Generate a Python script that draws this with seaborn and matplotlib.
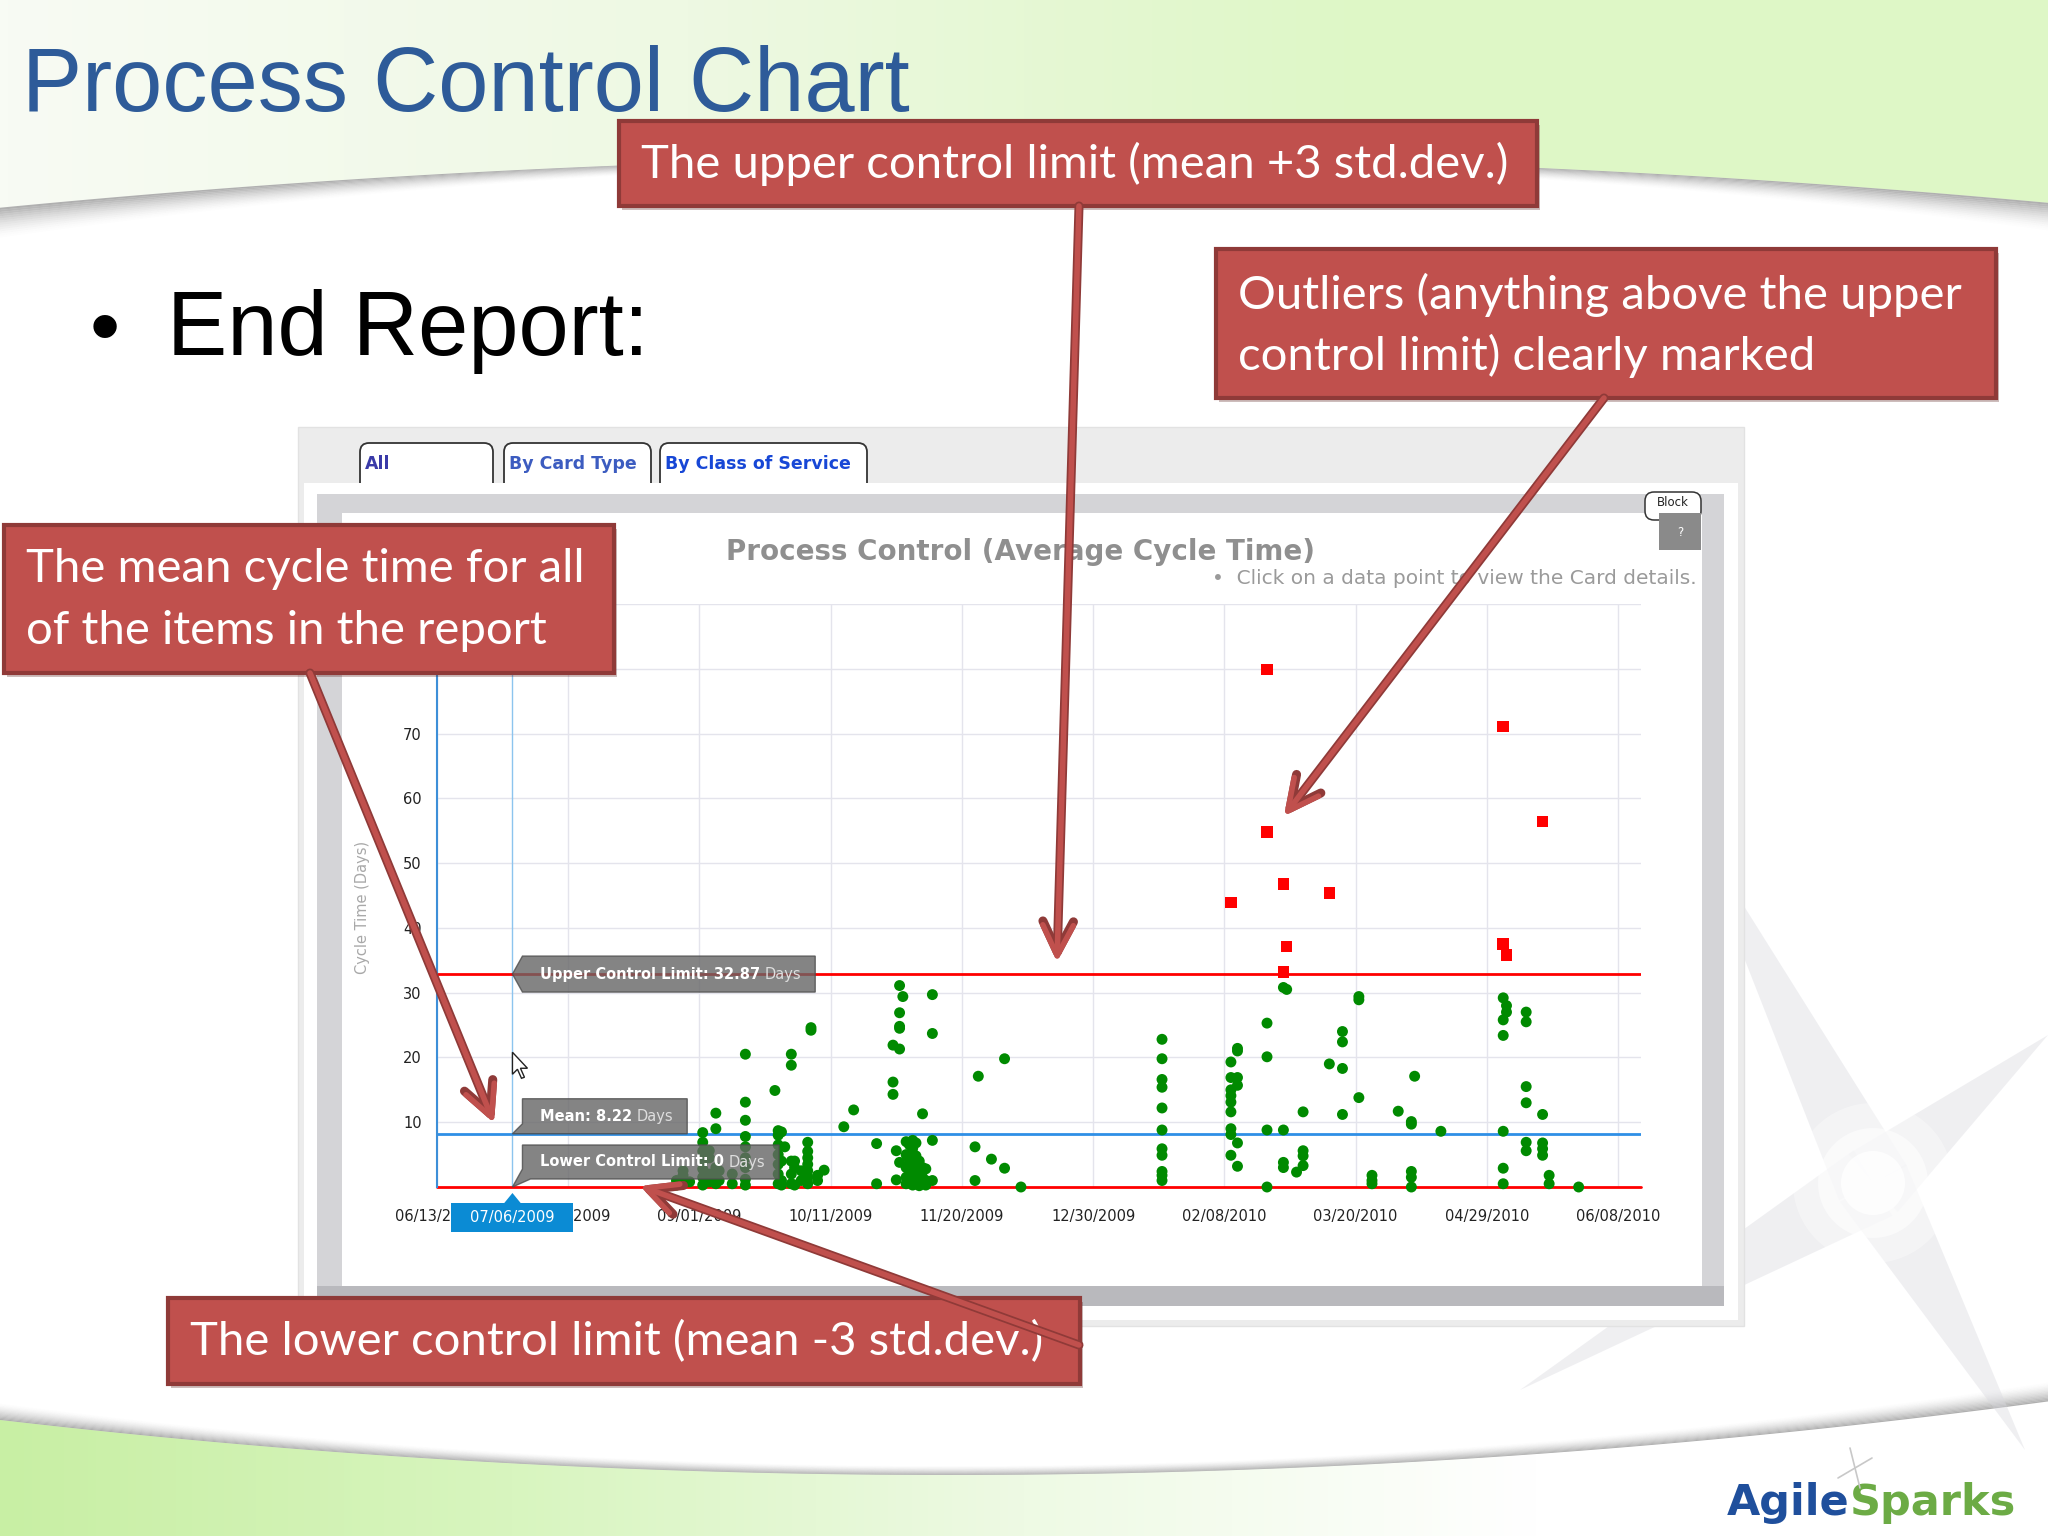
import numpy as np
import pandas as pd
import matplotlib
matplotlib.use("Agg")
import matplotlib.pyplot as plt
import matplotlib.dates as mdates
from matplotlib.patches import Rectangle, Polygon, FancyBboxPatch, Circle
from matplotlib.colors import LinearSegmentedColormap
import seaborn as sns

# ---- values ----
# cards inside the control limits, grouped by completion date
ok_col_dates = [
    "2009-08-25", "2009-08-27", "2009-08-29", "2009-09-02", "2009-09-04",
    "2009-09-06", "2009-09-07", "2009-09-11", "2009-09-15", "2009-09-24",
    "2009-09-25", "2009-09-26", "2009-09-27", "2009-09-29", "2009-09-30",
    "2009-10-02", "2009-10-04", "2009-10-05", "2009-10-07", "2009-10-09",
    "2009-10-15", "2009-10-18", "2009-10-25", "2009-10-30", "2009-10-31",
    "2009-11-01", "2009-11-02", "2009-11-03", "2009-11-04", "2009-11-05",
    "2009-11-06", "2009-11-07", "2009-11-08", "2009-11-09", "2009-11-11",
    "2009-11-24", "2009-11-25", "2009-11-29", "2009-12-03", "2009-12-08",
    "2010-01-20", "2010-02-10", "2010-02-12", "2010-02-21", "2010-02-26",
    "2010-02-27", "2010-03-02", "2010-03-04", "2010-03-12", "2010-03-16",
    "2010-03-21", "2010-03-25", "2010-04-02", "2010-04-06", "2010-04-07",
    "2010-04-15", "2010-05-04", "2010-05-05", "2010-05-11", "2010-05-16",
    "2010-05-18", "2010-05-27",
]
ok_col_days = [
    [0.3, 1.0], [0.5, 1.0, 1.8, 2.5], [0.8], [0.3, 1.5, 2.8, 4.0, 5.5, 6.9, 8.4],
    [0.8, 2.0, 4.5, 5.6], [0.5, 1.8, 3.0, 9.0, 11.4], [1.0, 2.5], [0.5, 2.0],
    [0.3, 1.2, 3.0, 4.5, 6.2, 7.8, 10.3, 13.1, 20.5], [14.9],
    [0.5, 2.0, 3.5, 5.0, 6.5, 8.0, 8.7], [0.3, 1.0, 4.0, 8.5], [6.2],
    [0.5, 2.0, 4.0, 18.8, 20.5], [0.3, 3.0, 4.0], [1.0, 2.5],
    [0.5, 1.5, 2.5, 3.5, 4.5, 5.5, 6.9], [24.2, 24.6], [1.0, 1.8], [2.6],
    [9.3], [11.9], [0.5, 6.7], [14.3, 16.2, 21.9], [1.1, 5.6],
    [3.8, 21.3, 24.5, 24.8, 26.9, 31.1], [29.4], [0.5, 1.5, 3.0, 5.0, 7.0],
    [0.8, 2.5, 4.2, 6.5], [0.3, 2.0, 3.5, 5.2, 6.0, 7.2], [0.5, 1.2, 3.0, 4.8, 6.8],
    [0.2, 2.2, 4.0], [0.6, 1.5, 3.0, 11.3], [0.3, 1.0, 2.8], [1.0, 7.2, 23.7, 29.7],
    [1.0, 6.2], [17.1], [4.3], [2.9, 19.8], [0.0],
    [1.0, 1.8, 2.4, 4.9, 5.9, 8.8, 12.2, 15.4, 16.6, 19.8, 22.8],
    [4.9, 8.1, 9.0, 11.6, 13.1, 14.1, 15.0, 16.9, 19.3],
    [3.2, 6.8, 15.7, 16.9, 21.0, 21.4], [0.0, 8.8, 20.1, 25.3],
    [3.0, 3.8, 8.8, 30.8], [30.5], [2.3], [3.3, 4.8, 5.6, 11.6], [19.0],
    [11.2, 18.3, 22.4, 24.0], [13.8, 28.9, 29.4], [0.5, 1.0, 1.8], [11.7],
    [0.0, 1.5, 2.4, 9.7, 10.1], [17.1], [8.6], [0.5, 2.9, 8.6, 23.4, 25.8, 29.2],
    [27.0, 28.0], [5.6, 6.9, 13.0, 15.5, 25.5, 27.0], [4.9, 5.9, 6.8, 11.2],
    [0.5, 1.8], [0.0],
]
# outliers above the upper control limit
out_dates = ["2010-02-10", "2010-02-21", "2010-02-21", "2010-02-26", "2010-02-26",
             "2010-02-27", "2010-03-12", "2010-05-04", "2010-05-04", "2010-05-05",
             "2010-05-16"]
out_days = [43.9, 79.9, 54.8, 46.8, 33.2, 37.1, 45.4, 71.1, 37.5, 35.8, 56.4]

mean_days = 8.22
ucl_days = 32.87
lcl_days = 0
hover_date = "2009-07-06"
x_start, x_end = "2009-06-13", "2010-06-15"
tick_dates = ["2009-06-13", "2009-07-23", "2009-09-01", "2009-10-11", "2009-11-20",
              "2009-12-30", "2010-02-08", "2010-03-20", "2010-04-29", "2010-06-08"]
y_ticks = [10, 20, 30, 40, 50, 60, 70, 80, 90]
tab_names = ["All", "By Card Type", "By Class of Service"]

ok_df = pd.DataFrame([(d, v) for d, vals in zip(ok_col_dates, ok_col_days) for v in vals],
                     columns=["date", "days"])
ok_df["date"] = pd.to_datetime(ok_df["date"])
out_df = pd.DataFrame({"date": pd.to_datetime(out_dates), "days": out_days})

sns.set_style("white")
plt.rcParams['font.family'] = ['DejaVu Sans']
SLIDE = ['Liberation Sans', 'DejaVu Sans']
CALL = ['Lato', 'DejaVu Sans']

W, H = 2048, 1536
fig = plt.figure(figsize=(W / 100, H / 100), dpi=100)
fig.patch.set_facecolor('white')

# ---- slide background (pixel coordinates, y downwards) ----
bg = fig.add_axes([0, 0, 1, 1], zorder=0)
bg.axis('off')

xs = np.linspace(0, W, 300)
top_edge = 157 + 4.6e-5 * (xs - 1050) ** 2
top_clip = Polygon(np.vstack([[[0, 0], [W, 0]], np.column_stack([xs, top_edge])[::-1]]),
                   closed=True, fc='none', ec='none', transform=bg.transData)
bg.add_patch(top_clip)
cm_top = LinearSegmentedColormap.from_list('top', ['#f8fbf4', '#eef9e3', '#def7c6', '#def7c6'])
im = bg.imshow(np.linspace(0, 1, 256)[None, :], cmap=cm_top, extent=(0, W, 260, 0),
               aspect='auto', zorder=0)
im.set_clip_path(top_clip)

bot_edge = 1475 - 6.1e-5 * (xs - 950) ** 2
bot_clip = Polygon(np.vstack([np.column_stack([xs, bot_edge]), [[W, H], [0, H]]]),
                   closed=True, fc='none', ec='none', transform=bg.transData)
bg.add_patch(bot_clip)
cm_bot = LinearSegmentedColormap.from_list('bot', ['#c8efa4', '#d8f5bf', '#eefae4', '#ffffff', '#ffffff'])
im2 = bg.imshow(np.linspace(0, 1, 256)[None, :], cmap=cm_bot, extent=(0, W, H, 1380),
                aspect='auto', zorder=0)
im2.set_clip_path(bot_clip)

n_band = 14
thick_top = 6 + 24 * ((xs - 1050) / 1050) ** 2
thick_bot = 9 + 10 * ((xs - 950) / 1100) ** 2
for k in range(n_band):
    f0, f1 = k / n_band, (k + 1) / n_band
    a = 0.55 * (1 - f0) ** 1.6
    bg.fill_between(xs, top_edge + thick_top * f0, top_edge + thick_top * f1,
                    color='#6f6f6f', alpha=a, lw=0, zorder=1)
    bg.fill_between(xs, bot_edge - thick_bot * f1, bot_edge - thick_bot * f0,
                    color='#6f6f6f', alpha=a, lw=0, zorder=1)

# faint spark decoration on the right
cx, cy = 1873, 1183
for tx, ty in [(1690, 820), (2048, 1035), (2025, 1450), (1520, 1390)]:
    ang = np.arctan2(ty - cy, tx - cx) + np.pi / 2
    hw = 38
    bg.add_patch(Polygon([(cx + hw * np.cos(ang), cy + hw * np.sin(ang)), (tx, ty),
                          (cx - hw * np.cos(ang), cy - hw * np.sin(ang))],
                         fc='#d8d8de', ec='none', alpha=0.4, zorder=1))
for rr, aa in [(80, 0.35), (55, 0.55), (32, 0.8)]:
    bg.add_patch(Circle((cx, cy), rr, fc='white', ec='none', alpha=aa, zorder=1.1))

# slide texts
bg.text(22, 111, 'Process Control Chart', fontsize=65, color='#2e5b99',
        family=SLIDE, va='baseline', zorder=5)
bg.text(90, 355, '\u2022', fontsize=62, color='black', family=SLIDE, va='baseline', zorder=5)
bg.text(167, 355, 'End Report:', fontsize=65, color='black', family=SLIDE, va='baseline', zorder=5)

# report container, tabs and chart panel
bg.add_patch(Rectangle((298, 427), 1446, 899, fc='#ececec', ec='#e2e2e2', lw=1, zorder=2))
tab_x = [360, 504, 660]
tab_w = [133, 147, 207]
tab_colors = ['#3a3aa8', '#3c5cc0', '#1747d6']
for name, x0, w, c in zip(tab_names, tab_x, tab_w, tab_colors):
    bg.add_patch(FancyBboxPatch((x0, 443), w, 60, boxstyle='round,pad=0,rounding_size=9',
                                fc='white', ec='#333333', lw=1.3, zorder=2.5))
    bg.text(x0 + 5, 464, name, fontsize=12.5, fontweight='bold', color=c, va='center',
            zorder=2.6)
bg.add_patch(Rectangle((304, 483), 1434, 837, fc='white', ec='none', zorder=3))
bg.add_patch(Rectangle((317, 494), 1407, 812, fc='#d4d4d7', ec='none', zorder=3.1))
bg.add_patch(Rectangle((317, 1286), 1407, 20, fc='#b9b9bd', ec='none', zorder=3.15))
bg.add_patch(Rectangle((342, 513), 1360, 773, fc='white', ec='none', zorder=3.2))
bg.add_patch(FancyBboxPatch((1645, 492), 56, 28, boxstyle='round,pad=0,rounding_size=9',
                            fc='white', ec='#333333', lw=1.1, zorder=3.3))
bg.add_patch(Rectangle((1659, 513), 42, 37, fc='#8a8a8a', ec='none', zorder=3.4))
bg.text(1673, 503, 'Block', fontsize=8.5, color='#222222', ha='center', va='center', zorder=3.5)
bg.text(1680, 532, '?', fontsize=8.5, color='white', ha='center', va='center', zorder=3.5)
bg.text(1021, 552, 'Process Control (Average Cycle Time)', fontsize=20, fontweight='bold',
        color='#8f8f8f', ha='center', va='center', zorder=3.5)
bg.text(1697, 579, '\u2022  Click on a data point to view the Card details.', fontsize=14.5,
        color='#9a9a9a', ha='right', va='center', zorder=3.5)

# logo
logo1 = bg.text(1727, 1515, 'Agile', fontsize=31, fontweight='bold', color='#1f4f9c',
                va='baseline', zorder=5)
bg.set_xlim(0, W)
bg.set_ylim(H, 0)

r = fig.canvas.get_renderer()
lx = logo1.get_window_extent(r).x1
bg.text(lx, 1515, 'Sparks', fontsize=31, fontweight='bold', color='#6cab45',
        va='baseline', zorder=5)
bg.plot([1838, 1872], [1478, 1458], color='#c8c8c8', lw=1.2, zorder=5)
bg.plot([1850, 1860], [1448, 1488], color='#c8c8c8', lw=1.2, zorder=5)

# ---- the control chart itself ----
ax = fig.add_axes([437 / W, 1 - 1187 / H, 1204 / W, 583 / H], zorder=2)
ax.set_facecolor('white')
ax.axhline(ucl_days, color='#ff0000', lw=2, zorder=1.6)
ax.axhline(mean_days, color='#2f8fe6', lw=2, zorder=1.6)
ax.axhline(lcl_days, color='#ff0000', lw=2, zorder=1.6, clip_on=False)
ax.axvline(pd.Timestamp(hover_date), color='#8cc4ee', lw=1, zorder=1.5)
sns.scatterplot(data=ok_df, x='date', y='days', color='#008a00', s=62, edgecolor='none',
                ax=ax, clip_on=False, zorder=3)
sns.scatterplot(data=out_df, x='date', y='days', color='#ff0000', marker='s', s=70,
                edgecolor='none', ax=ax, clip_on=False, zorder=3)
ax.set_xlim(pd.Timestamp(x_start), pd.Timestamp(x_end))
ax.set_ylim(0, 90)
ax.set_xticks(pd.to_datetime(tick_dates))
ax.xaxis.set_major_formatter(mdates.DateFormatter('%m/%d/%Y'))
ax.set_yticks(y_ticks)
ax.grid(True, color='#e4e4ec', lw=1)
ax.set_axisbelow(True)
sns.despine(ax=ax, top=True, right=True, bottom=True)
ax.spines['left'].set_color('#3d8fd8')
ax.spines['left'].set_linewidth(1.5)
ax.tick_params(axis='x', colors='#3d8fd8', length=6.5, width=1.5, pad=9,
               labelsize=10.5, labelcolor='#222222')
ax.tick_params(axis='y', colors='#8a8a8a', length=7, width=1, pad=4,
               labelsize=10.5, labelcolor='#222222')
ax.set_xlabel('')
ax.set_ylabel('Cycle Time (Days)', fontsize=10.5, color='#a8a8a8')
ax.yaxis.set_label_coords(-0.0556, 0.479)

# ---- overlay: value flags, hover date, callouts ----
ov = fig.add_axes([0, 0, 1, 1], zorder=5)
ov.axis('off')
ov.patch.set_alpha(0)
ov.set_xlim(0, W)
ov.set_ylim(H, 0)


def to_px(x, y):
    dx, dy = ax.transData.transform((mdates.date2num(pd.Timestamp(x)), y))
    return dx, H - dy


def flag(level, label, kind):
    tx, ty = to_px(hover_date, level)
    x0 = tx + 10
    if kind == 'mid':
        top, bot = ty - 18, ty + 18
    elif kind == 'above':
        top, bot = ty - 35, ty
    else:
        top, bot = ty - 42, ty - 8
    yc = (top + bot) / 2
    t1 = ov.text(x0 + 18, yc, label, color='white', fontsize=10.5, fontweight='bold',
                 va='center', zorder=2.2)
    bx = t1.get_window_extent(r).x1
    t2 = ov.text(bx + 4, yc, 'Days', color='#dedede', fontsize=10.5, va='center', zorder=2.2)
    x1 = t2.get_window_extent(r).x1 + 14
    if kind == 'mid':
        pts = [(x0, top), (x1, top), (x1, bot), (x0, bot), (tx, ty)]
    elif kind == 'above':
        pts = [(x0, top), (x1, top), (x1, bot), (tx, bot), (x0, bot - 10)]
    else:
        pts = [(x0, top), (x1, top), (x1, bot), (x0 + 8, bot), (tx, ty), (x0, bot - 10)]
    ov.add_patch(Polygon(pts, closed=True, fc='#666666', ec='#4d4d4d', lw=1,
                         alpha=0.8, zorder=2.1))


flag(ucl_days, f'Upper Control Limit: {ucl_days:.2f}', 'mid')
flag(mean_days, f'Mean: {mean_days:.2f}', 'above')
flag(lcl_days, f'Lower Control Limit: {lcl_days:g}', 'below')

hx, hy = to_px(hover_date, 0)
ov.add_patch(Rectangle((hx - 61, 1203), 122, 29, fc='#0b8bd4', ec='none', zorder=2.3))
ov.add_patch(Polygon([(hx - 9, 1204), (hx + 9, 1204), (hx, 1193)], fc='#0b8bd4',
                     ec='none', zorder=2.3))
ov.text(hx, 1217.5, pd.Timestamp(hover_date).strftime('%m/%d/%Y'), color='white',
        fontsize=10.5, ha='center', va='center', zorder=2.4)

# mouse pointer
px, py = to_px(hover_date, 20.8)
cur = np.array([(0, 0), (0, 22), (5, 17), (9, 26), (12, 25), (8, 16), (15, 16)])
ov.add_patch(Polygon(cur + [px, py], closed=True, fc='white', ec='#222222', lw=1, zorder=2.5))


def callout(x0, y0, x1, y1, lines, tx, centers, fs=34):
    ov.add_patch(Rectangle((x0 + 3, y0 + 4), x1 - x0, y1 - y0, fc='#5a2524', ec='none',
                           alpha=0.3, zorder=3))
    ov.add_patch(Rectangle((x0, y0), x1 - x0, y1 - y0, fc='#c0504d', ec='#8f3a38',
                           lw=3, zorder=3.1))
    for line, yc in zip(lines, centers):
        ov.text(tx, yc, line, color='white', fontsize=fs, family=CALL, va='center', zorder=3.2)


callout(619, 121, 1537, 206, ['The upper control limit (mean +3 std.dev.)'], 641, [164])
callout(1216, 249, 1996, 398, ['Outliers (anything above the upper',
                               'control limit) clearly marked'], 1238, [295, 356])
callout(4, 525, 614, 673, ['The mean cycle time for all', 'of the items in the report'],
        26, [569, 631])
callout(168, 1298, 1080, 1384, ['The lower control limit (mean -3 std.dev.)'], 190, [1342])


def arrow(start, end):
    for c, lw in [('#8f3a38', 6.5), ('#c0504d', 4)]:
        ov.annotate('', xy=end, xytext=start,
                    arrowprops=dict(arrowstyle='->, head_length=1.1, head_width=0.55',
                                    color=c, lw=lw, mutation_scale=20,
                                    shrinkA=0, shrinkB=0), zorder=4)


arrow((1079, 206), (1057, 962))
arrow((1604, 398), (1284, 816))
arrow((310, 673), (494, 1123))
arrow((1079, 1345), (640, 1186))

fig.savefig('out.png', dpi=100)
